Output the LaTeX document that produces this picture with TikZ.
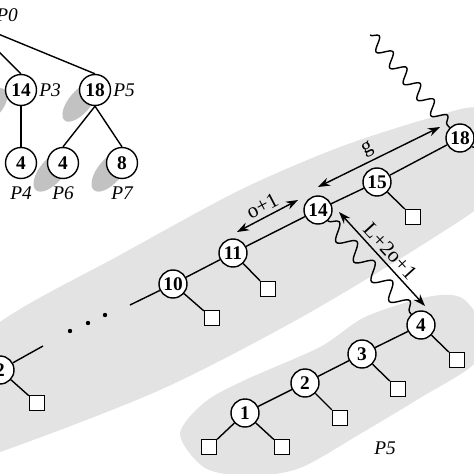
\documentclass[tikz,border=0pt]{standalone}
\usepackage{fontspec}
\setmainfont{Liberation Serif}
\usetikzlibrary{
    arrows.meta,
    positioning,
    calc,
    decorations.pathmorphing,
}

\begin{document}
\begin{tikzpicture}[
    x=0.2mm, y=-0.2mm,
    vertex/.style={draw, circle, thick, fill=white, inner sep=0pt,
                   minimum size=5.6mm, font=\fontsize{11pt}{13pt}\selectfont\bfseries},
    topvertex/.style={vertex, minimum size=6.2mm},
    leaf/.style={draw, rectangle, thick, fill=white, inner sep=0pt, minimum size=3mm},
    proc/.style={font=\fontsize{11pt}{13pt}\selectfont\itshape, inner sep=1pt},
    cost/.style={font=\fontsize{12pt}{14pt}\selectfont, inner sep=2pt},
    span/.style={thick, {Stealth[length=2.4mm, width=1.7mm]}-{Stealth[length=2.4mm, width=1.7mm]}},
    wave/.style={thick, decorate, decoration={snake, amplitude=1.3mm, segment length=4.2mm}},
    longwave/.style={thick, decorate, decoration={snake, amplitude=1.6mm, segment length=5.3mm}},
    blob/.style={fill=black!11},
    shadow/.style={fill=black!24},
]

\useasboundingbox (0,0) rectangle (474,474);
\clip (0,0) rectangle (474,474);

\fill[blob] plot[smooth cycle] coordinates {(-80,400) (0,322) (120,255) (240,190) (340,147)
    (433,117) (480,108) (512,140) (492,195) (430,240) (300,318) (160,390) (0,452) (-70,470)};
\fill[blob] plot[smooth cycle] coordinates {(180,434) (205,402) (245,380) (320,347) (365,317)
    (427,297) (462,298) (484,330) (474,364) (420,398) (360,434) (300,468) (250,476) (205,468)};

\fill[shadow, rotate around={50:(-8,105)}] (-8,105) ellipse [x radius=20, y radius=11];
\fill[shadow, rotate around={50:(80,102)}] (80,102) ellipse [x radius=24, y radius=11];
\fill[shadow, rotate around={50:(52,171)}] (52,171) ellipse [x radius=25, y radius=12];
\fill[shadow, rotate around={50:(110,171)}] (110,171) ellipse [x radius=25, y radius=12];

% small tree
\coordinate (t0) at (-31,22);
\node[proc] (p0) at (7,15) {P0};
\node[topvertex, label={[proc]right:P3}] (t14) at (21,90) {14};
\node[topvertex, label={[proc]right:P5}] (t18) at (95,90) {18};
\node[topvertex, label={[proc, label distance=3pt]below:P4}] (t4a) at (21,163) {4};
\node[topvertex, label={[proc, label distance=3pt]below:P6}] (t4b) at (63,163) {4};
\node[topvertex, label={[proc, label distance=3pt]below:P7}] (t8) at (122,163) {8};
\draw[thick] (t0) -- (t14.north);
\draw[thick] (t0) -- (t18.north);
\draw[thick] (t14.south) -- (t4a.north);
\draw[thick] (t18.south) -- (t4b.north);
\draw[thick] (t18.south) -- (t8.north);

% long chain
\node[vertex] (n18) at (460,138) {18};
\node[vertex] (n15) at (377,182) {15};
\node[vertex] (n14) at (318,210) {14};
\node[vertex] (n11) at (233,253) {11};
\node[vertex] (n10) at (173,284) {10};
\node[vertex] (n2) at (0,370) {2};
\node[leaf] (s15) at (413,217) {};
\node[leaf] (s11) at (268,289) {};
\node[leaf] (s10) at (212,318) {};
\node[leaf] (s2) at (37,403) {};
\coordinate (e10) at (130,305);
\coordinate (e2) at (43,346);
\draw[thick] (n18) -- (n15) -- (n14) -- (n11) -- (n10) -- (e10);
\draw[thick] (n2) -- (e2);
\draw[thick] (n15) -- (s15);
\draw[thick] (n11) -- (s11);
\draw[thick] (n10) -- (s10);
\draw[thick] (n2) -- (s2);
\foreach \x/\y in {70/331, 88/323, 105/315}
    \fill (\x,\y) circle (2.2);

% chain of P5
\node[vertex] (m4) at (421,325) {4};
\node[vertex] (m3) at (362,354) {3};
\node[vertex] (m2) at (305,383) {2};
\node[vertex] (m1) at (245,413) {1};
\node[leaf] (r4) at (457,360) {};
\node[leaf] (r3) at (398,389) {};
\node[leaf] (r2) at (340,418) {};
\node[leaf] (r1) at (282,447) {};
\node[leaf] (l1) at (209,447) {};
\node[proc] (p5) at (385,448) {P5};
\draw[thick] (m4) -- (m3) -- (m2) -- (m1);
\draw[thick] (m4) -- (r4);
\draw[thick] (m3) -- (r3);
\draw[thick] (m2) -- (r2);
\draw[thick] (m1) -- (r1);
\draw[thick] (m1) -- (l1);

% messages
\coordinate (wtop) at (370,35);
\coordinate (wright) at (505,172);
\draw[wave] (wtop) -- (n18.north west);
\draw[wave] (n18) -- (wright);
\draw[longwave] (n14) -- (m4);

\draw[span] ($(n14)+(0,-23)$) -- node[cost, sloped, above, pos=0.45] {g} ($(n18)+(-20,-11)$);
\draw[span] ($(n11)+(4,-21)$) -- node[cost, sloped, above] {o+1} ($(n14)+(-20,-10)$);
\draw[span] ($(n14)+(21,2)$) -- node[cost, sloped, above] {L+2o+1} ($(m4)+(4,-19)$);

\end{tikzpicture}
\end{document}
